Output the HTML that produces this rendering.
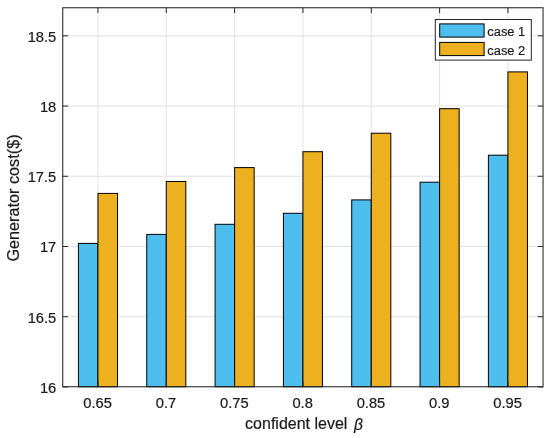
<!DOCTYPE html>
<html><head><meta charset="utf-8"><title>Generator cost</title>
<style>
html,body{margin:0;padding:0;background:#fff;}
svg{display:block;}
text{font-family:"Liberation Sans",sans-serif;fill:#1a1a1a;stroke:#1a1a1a;stroke-width:0.2px;}
.t{font-size:14.5px;}
.l{font-size:16.0px;}
.g{font-size:13.3px;}
</style></head><body>
<svg width="550" height="438" viewBox="0 0 550 438">
<rect x="0" y="0" width="550" height="438" fill="#ffffff"/>
<line x1="97.95" y1="7.75" x2="97.95" y2="386.75" stroke="#e2e2e2" stroke-width="1"/>
<line x1="166.28" y1="7.75" x2="166.28" y2="386.75" stroke="#e2e2e2" stroke-width="1"/>
<line x1="234.61" y1="7.75" x2="234.61" y2="386.75" stroke="#e2e2e2" stroke-width="1"/>
<line x1="302.94" y1="7.75" x2="302.94" y2="386.75" stroke="#e2e2e2" stroke-width="1"/>
<line x1="371.27" y1="7.75" x2="371.27" y2="386.75" stroke="#e2e2e2" stroke-width="1"/>
<line x1="439.60" y1="7.75" x2="439.60" y2="386.75" stroke="#e2e2e2" stroke-width="1"/>
<line x1="507.93" y1="7.75" x2="507.93" y2="386.75" stroke="#e2e2e2" stroke-width="1"/>
<line x1="62.75" y1="316.73" x2="543.05" y2="316.73" stroke="#e2e2e2" stroke-width="1"/>
<line x1="62.75" y1="246.50" x2="543.05" y2="246.50" stroke="#e2e2e2" stroke-width="1"/>
<line x1="62.75" y1="176.28" x2="543.05" y2="176.28" stroke="#e2e2e2" stroke-width="1"/>
<line x1="62.75" y1="106.05" x2="543.05" y2="106.05" stroke="#e2e2e2" stroke-width="1"/>
<line x1="62.75" y1="35.82" x2="543.05" y2="35.82" stroke="#e2e2e2" stroke-width="1"/>
<rect x="78.41" y="243.40" width="19.54" height="143.35" fill="#4DBEEE" stroke="#000" stroke-width="1"/>
<rect x="97.95" y="193.40" width="19.54" height="193.35" fill="#EDB120" stroke="#000" stroke-width="1"/>
<rect x="146.74" y="234.40" width="19.54" height="152.35" fill="#4DBEEE" stroke="#000" stroke-width="1"/>
<rect x="166.28" y="181.50" width="19.54" height="205.25" fill="#EDB120" stroke="#000" stroke-width="1"/>
<rect x="215.07" y="224.30" width="19.54" height="162.45" fill="#4DBEEE" stroke="#000" stroke-width="1"/>
<rect x="234.61" y="167.60" width="19.54" height="219.15" fill="#EDB120" stroke="#000" stroke-width="1"/>
<rect x="283.40" y="213.30" width="19.54" height="173.45" fill="#4DBEEE" stroke="#000" stroke-width="1"/>
<rect x="302.94" y="151.70" width="19.54" height="235.05" fill="#EDB120" stroke="#000" stroke-width="1"/>
<rect x="351.73" y="199.90" width="19.54" height="186.85" fill="#4DBEEE" stroke="#000" stroke-width="1"/>
<rect x="371.27" y="133.20" width="19.54" height="253.55" fill="#EDB120" stroke="#000" stroke-width="1"/>
<rect x="420.06" y="182.20" width="19.54" height="204.55" fill="#4DBEEE" stroke="#000" stroke-width="1"/>
<rect x="439.60" y="108.70" width="19.54" height="278.05" fill="#EDB120" stroke="#000" stroke-width="1"/>
<rect x="488.39" y="155.20" width="19.54" height="231.55" fill="#4DBEEE" stroke="#000" stroke-width="1"/>
<rect x="507.93" y="71.90" width="19.54" height="314.85" fill="#EDB120" stroke="#000" stroke-width="1"/>
<rect x="62.75" y="7.75" width="480.29999999999995" height="379.0" fill="none" stroke="#262626" stroke-width="1.06"/>
<line x1="97.95" y1="386.75" x2="97.95" y2="381.45" stroke="#262626" stroke-width="1"/>
<line x1="97.95" y1="7.75" x2="97.95" y2="13.05" stroke="#262626" stroke-width="1"/>
<text class="t" transform="translate(97.65,407.8) scale(1.015,1)" text-anchor="middle">0.65</text>
<line x1="166.28" y1="386.75" x2="166.28" y2="381.45" stroke="#262626" stroke-width="1"/>
<line x1="166.28" y1="7.75" x2="166.28" y2="13.05" stroke="#262626" stroke-width="1"/>
<text class="t" transform="translate(165.98,407.8) scale(1.015,1)" text-anchor="middle">0.7</text>
<line x1="234.61" y1="386.75" x2="234.61" y2="381.45" stroke="#262626" stroke-width="1"/>
<line x1="234.61" y1="7.75" x2="234.61" y2="13.05" stroke="#262626" stroke-width="1"/>
<text class="t" transform="translate(234.31,407.8) scale(1.015,1)" text-anchor="middle">0.75</text>
<line x1="302.94" y1="386.75" x2="302.94" y2="381.45" stroke="#262626" stroke-width="1"/>
<line x1="302.94" y1="7.75" x2="302.94" y2="13.05" stroke="#262626" stroke-width="1"/>
<text class="t" transform="translate(302.64,407.8) scale(1.015,1)" text-anchor="middle">0.8</text>
<line x1="371.27" y1="386.75" x2="371.27" y2="381.45" stroke="#262626" stroke-width="1"/>
<line x1="371.27" y1="7.75" x2="371.27" y2="13.05" stroke="#262626" stroke-width="1"/>
<text class="t" transform="translate(370.97,407.8) scale(1.015,1)" text-anchor="middle">0.85</text>
<line x1="439.60" y1="386.75" x2="439.60" y2="381.45" stroke="#262626" stroke-width="1"/>
<line x1="439.60" y1="7.75" x2="439.60" y2="13.05" stroke="#262626" stroke-width="1"/>
<text class="t" transform="translate(439.30,407.8) scale(1.015,1)" text-anchor="middle">0.9</text>
<line x1="507.93" y1="386.75" x2="507.93" y2="381.45" stroke="#262626" stroke-width="1"/>
<line x1="507.93" y1="7.75" x2="507.93" y2="13.05" stroke="#262626" stroke-width="1"/>
<text class="t" transform="translate(507.63,407.8) scale(1.015,1)" text-anchor="middle">0.95</text>
<line x1="62.75" y1="386.95" x2="68.05" y2="386.95" stroke="#262626" stroke-width="1"/>
<line x1="543.05" y1="386.95" x2="537.75" y2="386.95" stroke="#262626" stroke-width="1"/>
<text class="t" transform="translate(56.3,392.85) scale(1.015,1)" text-anchor="end">16</text>
<line x1="62.75" y1="316.73" x2="68.05" y2="316.73" stroke="#262626" stroke-width="1"/>
<line x1="543.05" y1="316.73" x2="537.75" y2="316.73" stroke="#262626" stroke-width="1"/>
<text class="t" transform="translate(56.3,322.62) scale(1.015,1)" text-anchor="end">16.5</text>
<line x1="62.75" y1="246.50" x2="68.05" y2="246.50" stroke="#262626" stroke-width="1"/>
<line x1="543.05" y1="246.50" x2="537.75" y2="246.50" stroke="#262626" stroke-width="1"/>
<text class="t" transform="translate(56.3,252.40) scale(1.015,1)" text-anchor="end">17</text>
<line x1="62.75" y1="176.28" x2="68.05" y2="176.28" stroke="#262626" stroke-width="1"/>
<line x1="543.05" y1="176.28" x2="537.75" y2="176.28" stroke="#262626" stroke-width="1"/>
<text class="t" transform="translate(56.3,182.18) scale(1.015,1)" text-anchor="end">17.5</text>
<line x1="62.75" y1="106.05" x2="68.05" y2="106.05" stroke="#262626" stroke-width="1"/>
<line x1="543.05" y1="106.05" x2="537.75" y2="106.05" stroke="#262626" stroke-width="1"/>
<text class="t" transform="translate(56.3,111.95) scale(1.015,1)" text-anchor="end">18</text>
<line x1="62.75" y1="35.82" x2="68.05" y2="35.82" stroke="#262626" stroke-width="1"/>
<line x1="543.05" y1="35.82" x2="537.75" y2="35.82" stroke="#262626" stroke-width="1"/>
<text class="t" transform="translate(56.3,41.72) scale(1.015,1)" text-anchor="end">18.5</text>
<text class="l" x="245.1" y="429.3">confident level</text>
<text x="353.9" y="430.2" font-family="'Liberation Serif','DejaVu Serif',serif" font-style="italic" font-size="15.6px">β</text>
<text class="l" transform="translate(18.9,198) rotate(-90) scale(1.014,1)" text-anchor="middle">Generator cost($)</text>
<rect x="435.3" y="19.5" width="96" height="40.6" fill="#fff" stroke="#262626" stroke-width="1"/>
<rect x="439.7" y="23.9" width="44.4" height="13.2" fill="#4DBEEE" stroke="#000" stroke-width="1"/>
<rect x="439.7" y="42.4" width="44.4" height="13.2" fill="#EDB120" stroke="#000" stroke-width="1"/>
<text class="g" transform="translate(487.3,36.3) scale(0.97,1)">case 1</text>
<text class="g" transform="translate(487.3,54.6) scale(0.97,1)">case 2</text>
</svg></body></html>
